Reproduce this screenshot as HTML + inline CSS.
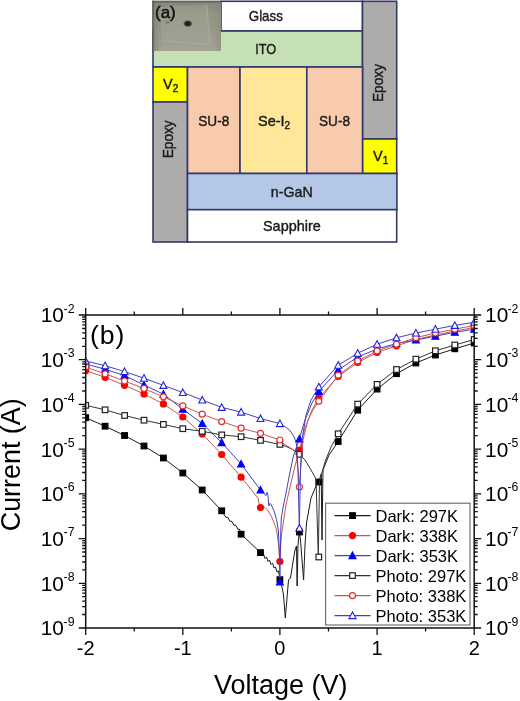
<!DOCTYPE html>
<html><head><meta charset="utf-8"><title>Figure</title>
<style>html,body{margin:0;padding:0;background:#fff;}body{width:520px;height:701px;overflow:hidden;position:relative;}svg{position:absolute;left:0;top:0;}</style>
</head><body>
<svg width="520" height="701" viewBox="0 0 520 701">
<rect x="221" y="1.3" width="141.50" height="29.70" fill="#ffffff" stroke="#30386c" stroke-width="1.6"/>
<rect x="153" y="31" width="209.50" height="36.00" fill="#c5e0b4" stroke="#30386c" stroke-width="1.6"/>
<rect x="362.5" y="1.3" width="34.20" height="137.70" fill="#aeabab" stroke="#30386c" stroke-width="1.6"/>
<rect x="362.5" y="139" width="34.20" height="34.50" fill="#ffff00" stroke="#30386c" stroke-width="1.6"/>
<rect x="153" y="67" width="34.50" height="35.00" fill="#ffff00" stroke="#30386c" stroke-width="1.6"/>
<rect x="153" y="102" width="34.50" height="140.00" fill="#aeabab" stroke="#30386c" stroke-width="1.6"/>
<rect x="187.5" y="67" width="52.50" height="106.50" fill="#f8cbad" stroke="#30386c" stroke-width="1.6"/>
<rect x="240" y="67" width="66.80" height="106.50" fill="#ffe699" stroke="#30386c" stroke-width="1.6"/>
<rect x="306.8" y="67" width="55.70" height="106.50" fill="#f8cbad" stroke="#30386c" stroke-width="1.6"/>
<rect x="187.5" y="173.5" width="209.40" height="36.20" fill="#b4c7e7" stroke="#30386c" stroke-width="1.6"/>
<rect x="187.5" y="209.7" width="209.20" height="32.30" fill="#ffffff" stroke="#30386c" stroke-width="1.6"/>
<defs><linearGradient id="ph" x1="0" y1="0" x2="0" y2="1">
<stop offset="0" stop-color="#85867a"/><stop offset="0.25" stop-color="#939486"/><stop offset="0.75" stop-color="#9c9d8e"/><stop offset="1" stop-color="#a3a396"/></linearGradient>
<linearGradient id="phl" x1="0" y1="0" x2="1" y2="0">
<stop offset="0" stop-color="#6f7064" stop-opacity="0.55"/><stop offset="0.15" stop-color="#8a8b7d" stop-opacity="0"/><stop offset="0.85" stop-color="#8a8b7d" stop-opacity="0"/><stop offset="1" stop-color="#7d7e70" stop-opacity="0.35"/></linearGradient>
<radialGradient id="dot"><stop offset="0" stop-color="#141412"/><stop offset="0.55" stop-color="#2a2a26"/><stop offset="1" stop-color="#6a6b60" stop-opacity="0"/></radialGradient>
<radialGradient id="dot2"><stop offset="0" stop-color="#5a5b50"/><stop offset="1" stop-color="#8a8b7d" stop-opacity="0"/></radialGradient></defs>
<rect x="152.5" y="1" width="68.5" height="50" fill="url(#ph)"/>
<polygon points="159,7 207,5 210,44 161,41" fill="#a3a494" opacity="0.45"/>
<polyline points="161,41 210,44.5 207,5" fill="none" stroke="#b3b4a5" stroke-width="1.2" opacity="0.55"/>
<polyline points="159,7 161,41" fill="none" stroke="#8d8e80" stroke-width="1" opacity="0.4"/>
<rect x="152.5" y="1" width="68.5" height="50" fill="url(#phl)"/>
<rect x="152.5" y="0.5" width="68.5" height="2" fill="#55574f" opacity="0.7"/>
<rect x="152.2" y="0.5" width="1.4" height="51" fill="#4a4c48" opacity="0.8"/>
<ellipse cx="187.8" cy="23.6" rx="5.2" ry="3.9" fill="url(#dot)"/>
<ellipse cx="167.5" cy="22.5" rx="4" ry="3" fill="url(#dot2)" opacity="0.6"/>
<text x="155" y="17.6" font-family="Liberation Sans, Arial, sans-serif" font-size="17" fill="#111" stroke="#111" stroke-width="0.45">(a)</text>
<text x="248.8" y="21.1" font-family="Liberation Sans, Arial, sans-serif" font-size="15" fill="#1a1a1a" stroke="#1a1a1a" stroke-width="0.4" text-anchor="start" textLength="34" lengthAdjust="spacingAndGlyphs">Glass</text>
<text x="255.2" y="53.9" font-family="Liberation Sans, Arial, sans-serif" font-size="15" fill="#1a1a1a" stroke="#1a1a1a" stroke-width="0.4" text-anchor="start" textLength="21" lengthAdjust="spacingAndGlyphs">ITO</text>
<text x="198.3" y="126" font-family="Liberation Sans, Arial, sans-serif" font-size="15" fill="#1a1a1a" stroke="#1a1a1a" stroke-width="0.4" text-anchor="start" textLength="31" lengthAdjust="spacingAndGlyphs">SU-8</text>
<text x="319" y="125.5" font-family="Liberation Sans, Arial, sans-serif" font-size="15" fill="#1a1a1a" stroke="#1a1a1a" stroke-width="0.4" text-anchor="start" textLength="31" lengthAdjust="spacingAndGlyphs">SU-8</text>
<text x="258" y="126" font-family="Liberation Sans, Arial, sans-serif" font-size="14.5" fill="#1a1a1a" stroke="#1a1a1a" stroke-width="0.4">Se-I<tspan font-size="10" dy="3">2</tspan></text>
<text x="163" y="89.2" font-family="Liberation Sans, Arial, sans-serif" font-size="14.5" fill="#1a1a1a" stroke="#1a1a1a" stroke-width="0.4">V<tspan font-size="10" dy="3">2</tspan></text>
<text x="373" y="160.5" font-family="Liberation Sans, Arial, sans-serif" font-size="14.5" fill="#1a1a1a" stroke="#1a1a1a" stroke-width="0.4">V<tspan font-size="10" dy="3">1</tspan></text>
<text transform="translate(383.3,83) rotate(-90)" font-family="Liberation Sans, Arial, sans-serif" font-size="14.8" fill="#1a1a1a" stroke="#1a1a1a" stroke-width="0.4" text-anchor="middle" textLength="38" lengthAdjust="spacingAndGlyphs">Epoxy</text>
<text transform="translate(173.4,139.3) rotate(-90)" font-family="Liberation Sans, Arial, sans-serif" font-size="14.8" fill="#1a1a1a" stroke="#1a1a1a" stroke-width="0.4" text-anchor="middle" textLength="38" lengthAdjust="spacingAndGlyphs">Epoxy</text>
<text x="270.8" y="197.3" font-family="Liberation Sans, Arial, sans-serif" font-size="15" fill="#1a1a1a" stroke="#1a1a1a" stroke-width="0.4" text-anchor="start" textLength="42" lengthAdjust="spacingAndGlyphs">n-GaN</text>
<text x="263" y="230.7" font-family="Liberation Sans, Arial, sans-serif" font-size="15" fill="#1a1a1a" stroke="#1a1a1a" stroke-width="0.4" text-anchor="start" textLength="57.7" lengthAdjust="spacingAndGlyphs">Sapphire</text>
<clipPath id="pc"><rect x="85.7" y="315.0" width="388.5" height="313.0"/></clipPath>
<g clip-path="url(#pc)">
<polyline points="85.7,417.7 105.1,426.2 124.5,435.5 144.0,446.0 163.4,458.0 182.8,473.0 202.2,490.0 221.7,510.8 226.0,517.5 227.5,517.0 230.0,521.5 231.5,521.0 234.0,525.5 235.5,525.0 238.0,529.5 239.5,529.0 241.1,534.2 260.5,552.6 262.0,555.0 263.5,554.0 265.0,558.5 266.5,557.0 268.0,561.5 269.5,560.0 271.0,564.5 272.5,563.0 274.0,568.0 275.5,567.0 277.0,572.0 278.5,571.0 279.9,579.7 282.0,587.0 283.5,595.0 285.3,618.0 287.0,598.0 288.5,580.0 290.5,578.0 292.5,565.0 295.0,550.0 296.5,546.0 297.1,586.0 298.0,545.0 299.3,532.0 300.5,540.0 302.0,560.0 303.6,580.0 305.0,545.0 306.5,523.0 311.0,498.0 316.0,486.0 318.8,482.0 321.2,474.0 322.0,540.0 323.0,470.0 329.0,455.0 338.2,441.5 357.7,410.2 377.1,389.1 396.5,373.7 415.9,363.0 435.4,355.0 454.8,348.8 474.2,343.0" fill="none" stroke="#1a1a1a" stroke-width="1.0" stroke-linejoin="round"/>
<rect x="82.9" y="414.9" width="5.6" height="5.6" fill="#000000" stroke="#000000" stroke-width="1.2"/>
<rect x="102.3" y="423.4" width="5.6" height="5.6" fill="#000000" stroke="#000000" stroke-width="1.2"/>
<rect x="121.8" y="432.7" width="5.6" height="5.6" fill="#000000" stroke="#000000" stroke-width="1.2"/>
<rect x="141.2" y="443.2" width="5.6" height="5.6" fill="#000000" stroke="#000000" stroke-width="1.2"/>
<rect x="160.6" y="455.2" width="5.6" height="5.6" fill="#000000" stroke="#000000" stroke-width="1.2"/>
<rect x="180.0" y="470.2" width="5.6" height="5.6" fill="#000000" stroke="#000000" stroke-width="1.2"/>
<rect x="199.4" y="487.2" width="5.6" height="5.6" fill="#000000" stroke="#000000" stroke-width="1.2"/>
<rect x="218.9" y="508.0" width="5.6" height="5.6" fill="#000000" stroke="#000000" stroke-width="1.2"/>
<rect x="238.3" y="531.4" width="5.6" height="5.6" fill="#000000" stroke="#000000" stroke-width="1.2"/>
<rect x="257.7" y="549.8" width="5.6" height="5.6" fill="#000000" stroke="#000000" stroke-width="1.2"/>
<rect x="277.1" y="576.9" width="5.6" height="5.6" fill="#000000" stroke="#000000" stroke-width="1.2"/>
<rect x="296.6" y="529.2" width="5.6" height="5.6" fill="#000000" stroke="#000000" stroke-width="1.2"/>
<rect x="316.0" y="479.2" width="5.6" height="5.6" fill="#000000" stroke="#000000" stroke-width="1.2"/>
<rect x="335.4" y="438.7" width="5.6" height="5.6" fill="#000000" stroke="#000000" stroke-width="1.2"/>
<rect x="354.9" y="407.4" width="5.6" height="5.6" fill="#000000" stroke="#000000" stroke-width="1.2"/>
<rect x="374.3" y="386.3" width="5.6" height="5.6" fill="#000000" stroke="#000000" stroke-width="1.2"/>
<rect x="393.7" y="370.9" width="5.6" height="5.6" fill="#000000" stroke="#000000" stroke-width="1.2"/>
<rect x="413.1" y="360.2" width="5.6" height="5.6" fill="#000000" stroke="#000000" stroke-width="1.2"/>
<rect x="432.6" y="352.2" width="5.6" height="5.6" fill="#000000" stroke="#000000" stroke-width="1.2"/>
<rect x="452.0" y="346.0" width="5.6" height="5.6" fill="#000000" stroke="#000000" stroke-width="1.2"/>
<rect x="471.4" y="340.2" width="5.6" height="5.6" fill="#000000" stroke="#000000" stroke-width="1.2"/>
<polyline points="85.7,370.6 105.1,377.3 124.5,385.3 144.0,393.9 163.4,403.9 182.8,417.0 202.2,433.9 221.7,454.5 241.1,477.2 250.0,488.0 258.1,498.3 259.0,503.4 260.5,507.5 264.1,506.8 267.1,509.4 271.4,516.3 274.8,524.8 276.5,530.0 278.0,540.0 279.0,550.0 279.9,561.5 280.5,548.0 281.5,535.0 282.5,528.0 286.0,505.0 290.0,487.0 295.0,466.0 299.3,450.0 305.0,428.0 312.0,410.0 318.8,398.0 338.2,376.5 357.7,362.5 377.1,352.5 396.5,345.8 415.9,339.5 435.4,335.0 454.8,331.0 474.2,327.5" fill="none" stroke="#c85656" stroke-width="1.0" stroke-linejoin="round"/>
<circle cx="85.7" cy="370.6" r="3.0" fill="#ff0000" stroke="#ff0000" stroke-width="1.2"/>
<circle cx="105.1" cy="377.3" r="3.0" fill="#ff0000" stroke="#ff0000" stroke-width="1.2"/>
<circle cx="124.5" cy="385.3" r="3.0" fill="#ff0000" stroke="#ff0000" stroke-width="1.2"/>
<circle cx="144.0" cy="393.9" r="3.0" fill="#ff0000" stroke="#ff0000" stroke-width="1.2"/>
<circle cx="163.4" cy="403.9" r="3.0" fill="#ff0000" stroke="#ff0000" stroke-width="1.2"/>
<circle cx="182.8" cy="417.0" r="3.0" fill="#ff0000" stroke="#ff0000" stroke-width="1.2"/>
<circle cx="202.2" cy="433.9" r="3.0" fill="#ff0000" stroke="#ff0000" stroke-width="1.2"/>
<circle cx="221.7" cy="454.5" r="3.0" fill="#ff0000" stroke="#ff0000" stroke-width="1.2"/>
<circle cx="241.1" cy="477.2" r="3.0" fill="#ff0000" stroke="#ff0000" stroke-width="1.2"/>
<circle cx="260.5" cy="507.5" r="3.0" fill="#ff0000" stroke="#ff0000" stroke-width="1.2"/>
<circle cx="279.9" cy="561.5" r="3.0" fill="#ff0000" stroke="#ff0000" stroke-width="1.2"/>
<circle cx="299.4" cy="450.0" r="3.0" fill="#ff0000" stroke="#ff0000" stroke-width="1.2"/>
<circle cx="318.8" cy="398.0" r="3.0" fill="#ff0000" stroke="#ff0000" stroke-width="1.2"/>
<circle cx="338.2" cy="376.5" r="3.0" fill="#ff0000" stroke="#ff0000" stroke-width="1.2"/>
<circle cx="357.7" cy="362.5" r="3.0" fill="#ff0000" stroke="#ff0000" stroke-width="1.2"/>
<circle cx="377.1" cy="352.5" r="3.0" fill="#ff0000" stroke="#ff0000" stroke-width="1.2"/>
<circle cx="396.5" cy="345.8" r="3.0" fill="#ff0000" stroke="#ff0000" stroke-width="1.2"/>
<circle cx="415.9" cy="339.5" r="3.0" fill="#ff0000" stroke="#ff0000" stroke-width="1.2"/>
<circle cx="435.4" cy="335.0" r="3.0" fill="#ff0000" stroke="#ff0000" stroke-width="1.2"/>
<circle cx="454.8" cy="331.0" r="3.0" fill="#ff0000" stroke="#ff0000" stroke-width="1.2"/>
<circle cx="474.2" cy="327.5" r="3.0" fill="#ff0000" stroke="#ff0000" stroke-width="1.2"/>
<polyline points="85.7,364.0 105.1,369.2 124.5,375.6 144.0,385.0 163.4,394.2 182.8,409.2 202.2,423.5 221.7,442.6 241.1,464.0 260.5,490.0 264.6,494.0 265.8,495.7 267.1,492.3 268.0,495.7 268.8,506.0 270.1,503.4 271.0,504.3 274.0,511.0 276.6,519.7 278.3,530.0 279.3,550.0 279.9,582.0 280.2,560.0 280.8,530.0 281.3,518.0 283.0,508.0 286.0,493.0 289.4,475.0 293.4,456.0 299.3,439.0 305.0,420.0 312.0,403.0 318.8,391.5 338.2,370.0 357.7,357.0 377.1,349.0 396.5,343.5 415.9,340.0 435.4,336.2 454.8,332.3 474.2,329.2" fill="none" stroke="#4242b8" stroke-width="1.0" stroke-linejoin="round"/>
<polygon points="85.7,360.4 89.2,367.0 82.2,367.0" fill="#0000ff" stroke="#0000ff" stroke-width="1.1" stroke-linejoin="miter"/>
<polygon points="105.1,365.6 108.6,372.2 101.6,372.2" fill="#0000ff" stroke="#0000ff" stroke-width="1.1" stroke-linejoin="miter"/>
<polygon points="124.5,372.0 128.1,378.6 121.0,378.6" fill="#0000ff" stroke="#0000ff" stroke-width="1.1" stroke-linejoin="miter"/>
<polygon points="144.0,381.4 147.5,388.0 140.5,388.0" fill="#0000ff" stroke="#0000ff" stroke-width="1.1" stroke-linejoin="miter"/>
<polygon points="163.4,390.6 166.9,397.2 159.9,397.2" fill="#0000ff" stroke="#0000ff" stroke-width="1.1" stroke-linejoin="miter"/>
<polygon points="182.8,405.6 186.3,412.2 179.3,412.2" fill="#0000ff" stroke="#0000ff" stroke-width="1.1" stroke-linejoin="miter"/>
<polygon points="202.2,419.9 205.8,426.5 198.8,426.5" fill="#0000ff" stroke="#0000ff" stroke-width="1.1" stroke-linejoin="miter"/>
<polygon points="221.7,439.0 225.2,445.6 218.2,445.6" fill="#0000ff" stroke="#0000ff" stroke-width="1.1" stroke-linejoin="miter"/>
<polygon points="241.1,460.4 244.6,467.0 237.6,467.0" fill="#0000ff" stroke="#0000ff" stroke-width="1.1" stroke-linejoin="miter"/>
<polygon points="260.5,486.4 264.0,493.0 257.0,493.0" fill="#0000ff" stroke="#0000ff" stroke-width="1.1" stroke-linejoin="miter"/>
<polygon points="279.9,578.4 283.4,585.0 276.4,585.0" fill="#0000ff" stroke="#0000ff" stroke-width="1.1" stroke-linejoin="miter"/>
<polygon points="299.4,435.4 302.9,442.0 295.9,442.0" fill="#0000ff" stroke="#0000ff" stroke-width="1.1" stroke-linejoin="miter"/>
<polygon points="318.8,387.9 322.3,394.5 315.3,394.5" fill="#0000ff" stroke="#0000ff" stroke-width="1.1" stroke-linejoin="miter"/>
<polygon points="338.2,366.4 341.7,373.0 334.7,373.0" fill="#0000ff" stroke="#0000ff" stroke-width="1.1" stroke-linejoin="miter"/>
<polygon points="357.7,353.4 361.2,360.0 354.2,360.0" fill="#0000ff" stroke="#0000ff" stroke-width="1.1" stroke-linejoin="miter"/>
<polygon points="377.1,345.4 380.6,352.0 373.6,352.0" fill="#0000ff" stroke="#0000ff" stroke-width="1.1" stroke-linejoin="miter"/>
<polygon points="396.5,339.9 400.0,346.5 393.0,346.5" fill="#0000ff" stroke="#0000ff" stroke-width="1.1" stroke-linejoin="miter"/>
<polygon points="415.9,336.4 419.4,343.0 412.4,343.0" fill="#0000ff" stroke="#0000ff" stroke-width="1.1" stroke-linejoin="miter"/>
<polygon points="435.4,332.6 438.9,339.2 431.9,339.2" fill="#0000ff" stroke="#0000ff" stroke-width="1.1" stroke-linejoin="miter"/>
<polygon points="454.8,328.7 458.3,335.3 451.3,335.3" fill="#0000ff" stroke="#0000ff" stroke-width="1.1" stroke-linejoin="miter"/>
<polygon points="474.2,325.6 477.7,332.2 470.7,332.2" fill="#0000ff" stroke="#0000ff" stroke-width="1.1" stroke-linejoin="miter"/>
<polyline points="85.7,405.3 105.1,409.8 124.5,415.5 144.0,420.2 163.4,424.4 182.8,428.7 202.2,431.3 221.7,434.9 241.1,436.7 260.5,440.4 279.9,444.4 285.0,446.0 293.0,449.6 299.3,454.3 305.0,460.0 311.0,470.0 316.0,479.0 318.3,557.0 319.5,482.0 321.5,474.0 325.0,462.0 331.0,447.0 338.2,433.8 357.7,404.1 377.1,384.4 396.5,369.5 415.9,359.2 435.4,350.8 454.8,345.0 474.2,339.5" fill="none" stroke="#333333" stroke-width="1.0" stroke-linejoin="round"/>
<rect x="82.9" y="402.5" width="5.6" height="5.6" fill="#fff" stroke="#222" stroke-width="1.2"/>
<rect x="102.3" y="407.0" width="5.6" height="5.6" fill="#fff" stroke="#222" stroke-width="1.2"/>
<rect x="121.8" y="412.7" width="5.6" height="5.6" fill="#fff" stroke="#222" stroke-width="1.2"/>
<rect x="141.2" y="417.4" width="5.6" height="5.6" fill="#fff" stroke="#222" stroke-width="1.2"/>
<rect x="160.6" y="421.6" width="5.6" height="5.6" fill="#fff" stroke="#222" stroke-width="1.2"/>
<rect x="180.0" y="425.9" width="5.6" height="5.6" fill="#fff" stroke="#222" stroke-width="1.2"/>
<rect x="199.4" y="428.5" width="5.6" height="5.6" fill="#fff" stroke="#222" stroke-width="1.2"/>
<rect x="218.9" y="432.1" width="5.6" height="5.6" fill="#fff" stroke="#222" stroke-width="1.2"/>
<rect x="238.3" y="433.9" width="5.6" height="5.6" fill="#fff" stroke="#222" stroke-width="1.2"/>
<rect x="257.7" y="437.6" width="5.6" height="5.6" fill="#fff" stroke="#222" stroke-width="1.2"/>
<rect x="277.1" y="441.6" width="5.6" height="5.6" fill="#fff" stroke="#222" stroke-width="1.2"/>
<rect x="296.6" y="451.5" width="5.6" height="5.6" fill="#fff" stroke="#222" stroke-width="1.2"/>
<rect x="316.0" y="554.2" width="5.6" height="5.6" fill="#fff" stroke="#222" stroke-width="1.2"/>
<rect x="335.4" y="431.0" width="5.6" height="5.6" fill="#fff" stroke="#222" stroke-width="1.2"/>
<rect x="354.9" y="401.3" width="5.6" height="5.6" fill="#fff" stroke="#222" stroke-width="1.2"/>
<rect x="374.3" y="381.6" width="5.6" height="5.6" fill="#fff" stroke="#222" stroke-width="1.2"/>
<rect x="393.7" y="366.7" width="5.6" height="5.6" fill="#fff" stroke="#222" stroke-width="1.2"/>
<rect x="413.1" y="356.4" width="5.6" height="5.6" fill="#fff" stroke="#222" stroke-width="1.2"/>
<rect x="432.6" y="348.0" width="5.6" height="5.6" fill="#fff" stroke="#222" stroke-width="1.2"/>
<rect x="452.0" y="342.2" width="5.6" height="5.6" fill="#fff" stroke="#222" stroke-width="1.2"/>
<rect x="471.4" y="336.7" width="5.6" height="5.6" fill="#fff" stroke="#222" stroke-width="1.2"/>
<polyline points="85.7,367.0 105.1,373.9 124.5,381.0 144.0,388.5 163.4,396.8 182.8,405.9 202.2,414.2 221.7,421.6 241.1,428.2 260.5,433.3 279.9,440.0 283.8,443.8 289.0,447.0 294.2,450.8 296.5,456.0 298.0,470.0 299.3,487.0 300.5,470.0 303.0,440.0 308.0,420.0 313.0,410.0 318.8,401.2 338.2,375.2 357.7,360.9 377.1,350.9 396.5,344.2 415.9,337.7 435.4,333.0 454.8,329.2 474.2,325.5" fill="none" stroke="#c85656" stroke-width="1.0" stroke-linejoin="round"/>
<circle cx="85.7" cy="367.0" r="3.0" fill="#fff" stroke="#e03030" stroke-width="1.2"/>
<circle cx="105.1" cy="373.9" r="3.0" fill="#fff" stroke="#e03030" stroke-width="1.2"/>
<circle cx="124.5" cy="381.0" r="3.0" fill="#fff" stroke="#e03030" stroke-width="1.2"/>
<circle cx="144.0" cy="388.5" r="3.0" fill="#fff" stroke="#e03030" stroke-width="1.2"/>
<circle cx="163.4" cy="396.8" r="3.0" fill="#fff" stroke="#e03030" stroke-width="1.2"/>
<circle cx="182.8" cy="405.9" r="3.0" fill="#fff" stroke="#e03030" stroke-width="1.2"/>
<circle cx="202.2" cy="414.2" r="3.0" fill="#fff" stroke="#e03030" stroke-width="1.2"/>
<circle cx="221.7" cy="421.6" r="3.0" fill="#fff" stroke="#e03030" stroke-width="1.2"/>
<circle cx="241.1" cy="428.2" r="3.0" fill="#fff" stroke="#e03030" stroke-width="1.2"/>
<circle cx="260.5" cy="433.3" r="3.0" fill="#fff" stroke="#e03030" stroke-width="1.2"/>
<circle cx="279.9" cy="440.0" r="3.0" fill="#fff" stroke="#e03030" stroke-width="1.2"/>
<circle cx="299.4" cy="487.0" r="3.0" fill="#fff" stroke="#e03030" stroke-width="1.2"/>
<circle cx="318.8" cy="401.2" r="3.0" fill="#fff" stroke="#e03030" stroke-width="1.2"/>
<circle cx="338.2" cy="375.2" r="3.0" fill="#fff" stroke="#e03030" stroke-width="1.2"/>
<circle cx="357.7" cy="360.9" r="3.0" fill="#fff" stroke="#e03030" stroke-width="1.2"/>
<circle cx="377.1" cy="350.9" r="3.0" fill="#fff" stroke="#e03030" stroke-width="1.2"/>
<circle cx="396.5" cy="344.2" r="3.0" fill="#fff" stroke="#e03030" stroke-width="1.2"/>
<circle cx="415.9" cy="337.7" r="3.0" fill="#fff" stroke="#e03030" stroke-width="1.2"/>
<circle cx="435.4" cy="333.0" r="3.0" fill="#fff" stroke="#e03030" stroke-width="1.2"/>
<circle cx="454.8" cy="329.2" r="3.0" fill="#fff" stroke="#e03030" stroke-width="1.2"/>
<circle cx="474.2" cy="325.5" r="3.0" fill="#fff" stroke="#e03030" stroke-width="1.2"/>
<polyline points="85.7,361.0 105.1,365.7 124.5,371.6 144.0,378.2 163.4,385.4 182.8,392.5 202.2,400.0 221.7,407.4 241.1,412.1 260.5,418.5 279.9,423.6 285.6,427.0 289.6,430.0 294.2,437.0 296.5,443.8 298.0,470.0 299.3,528.0 300.5,470.0 302.0,440.0 306.0,415.0 311.0,400.0 318.8,386.9 338.2,365.2 357.7,353.2 377.1,344.2 396.5,337.8 415.9,333.0 435.4,329.2 454.8,325.4 474.2,322.3" fill="none" stroke="#4242b8" stroke-width="1.0" stroke-linejoin="round"/>
<polygon points="85.7,357.4 89.2,364.0 82.2,364.0" fill="#fff" stroke="#2020e0" stroke-width="1.1" stroke-linejoin="miter"/>
<polygon points="105.1,362.1 108.6,368.7 101.6,368.7" fill="#fff" stroke="#2020e0" stroke-width="1.1" stroke-linejoin="miter"/>
<polygon points="124.5,368.0 128.1,374.6 121.0,374.6" fill="#fff" stroke="#2020e0" stroke-width="1.1" stroke-linejoin="miter"/>
<polygon points="144.0,374.6 147.5,381.2 140.5,381.2" fill="#fff" stroke="#2020e0" stroke-width="1.1" stroke-linejoin="miter"/>
<polygon points="163.4,381.8 166.9,388.4 159.9,388.4" fill="#fff" stroke="#2020e0" stroke-width="1.1" stroke-linejoin="miter"/>
<polygon points="182.8,388.9 186.3,395.5 179.3,395.5" fill="#fff" stroke="#2020e0" stroke-width="1.1" stroke-linejoin="miter"/>
<polygon points="202.2,396.4 205.8,403.0 198.8,403.0" fill="#fff" stroke="#2020e0" stroke-width="1.1" stroke-linejoin="miter"/>
<polygon points="221.7,403.8 225.2,410.4 218.2,410.4" fill="#fff" stroke="#2020e0" stroke-width="1.1" stroke-linejoin="miter"/>
<polygon points="241.1,408.5 244.6,415.1 237.6,415.1" fill="#fff" stroke="#2020e0" stroke-width="1.1" stroke-linejoin="miter"/>
<polygon points="260.5,414.9 264.0,421.5 257.0,421.5" fill="#fff" stroke="#2020e0" stroke-width="1.1" stroke-linejoin="miter"/>
<polygon points="279.9,420.0 283.4,426.6 276.4,426.6" fill="#fff" stroke="#2020e0" stroke-width="1.1" stroke-linejoin="miter"/>
<polygon points="299.4,524.4 302.9,531.0 295.9,531.0" fill="#fff" stroke="#2020e0" stroke-width="1.1" stroke-linejoin="miter"/>
<polygon points="318.8,383.3 322.3,389.9 315.3,389.9" fill="#fff" stroke="#2020e0" stroke-width="1.1" stroke-linejoin="miter"/>
<polygon points="338.2,361.6 341.7,368.2 334.7,368.2" fill="#fff" stroke="#2020e0" stroke-width="1.1" stroke-linejoin="miter"/>
<polygon points="357.7,349.6 361.2,356.2 354.2,356.2" fill="#fff" stroke="#2020e0" stroke-width="1.1" stroke-linejoin="miter"/>
<polygon points="377.1,340.6 380.6,347.2 373.6,347.2" fill="#fff" stroke="#2020e0" stroke-width="1.1" stroke-linejoin="miter"/>
<polygon points="396.5,334.2 400.0,340.8 393.0,340.8" fill="#fff" stroke="#2020e0" stroke-width="1.1" stroke-linejoin="miter"/>
<polygon points="415.9,329.4 419.4,336.0 412.4,336.0" fill="#fff" stroke="#2020e0" stroke-width="1.1" stroke-linejoin="miter"/>
<polygon points="435.4,325.6 438.9,332.2 431.9,332.2" fill="#fff" stroke="#2020e0" stroke-width="1.1" stroke-linejoin="miter"/>
<polygon points="454.8,321.8 458.3,328.4 451.3,328.4" fill="#fff" stroke="#2020e0" stroke-width="1.1" stroke-linejoin="miter"/>
<polygon points="474.2,318.7 477.7,325.3 470.7,325.3" fill="#fff" stroke="#2020e0" stroke-width="1.1" stroke-linejoin="miter"/>
</g>
<rect x="85.7" y="315.0" width="388.5" height="313.0" fill="none" stroke="#111" stroke-width="1.5"/>
<path d="M85.7,628.0v7M85.7,315.0v-7M182.8,628.0v7M182.8,315.0v-7M279.9,628.0v7M279.9,315.0v-7M377.1,628.0v7M377.1,315.0v-7M474.2,628.0v7M474.2,315.0v-7M134.3,628.0v3.5M134.3,315.0v-3.5M231.4,628.0v3.5M231.4,315.0v-3.5M328.5,628.0v3.5M328.5,315.0v-3.5M425.6,628.0v3.5M425.6,315.0v-3.5M85.7,614.5h-3.5M474.2,614.5h3.5M85.7,606.7h-3.5M474.2,606.7h3.5M85.7,601.1h-3.5M474.2,601.1h3.5M85.7,596.7h-3.5M474.2,596.7h3.5M85.7,593.2h-3.5M474.2,593.2h3.5M85.7,590.2h-3.5M474.2,590.2h3.5M85.7,587.6h-3.5M474.2,587.6h3.5M85.7,585.3h-3.5M474.2,585.3h3.5M85.7,569.8h-3.5M474.2,569.8h3.5M85.7,562.0h-3.5M474.2,562.0h3.5M85.7,556.4h-3.5M474.2,556.4h3.5M85.7,552.0h-3.5M474.2,552.0h3.5M85.7,548.5h-3.5M474.2,548.5h3.5M85.7,545.5h-3.5M474.2,545.5h3.5M85.7,542.9h-3.5M474.2,542.9h3.5M85.7,540.6h-3.5M474.2,540.6h3.5M85.7,525.1h-3.5M474.2,525.1h3.5M85.7,517.2h-3.5M474.2,517.2h3.5M85.7,511.7h-3.5M474.2,511.7h3.5M85.7,507.3h-3.5M474.2,507.3h3.5M85.7,503.8h-3.5M474.2,503.8h3.5M85.7,500.8h-3.5M474.2,500.8h3.5M85.7,498.2h-3.5M474.2,498.2h3.5M85.7,495.9h-3.5M474.2,495.9h3.5M85.7,480.4h-3.5M474.2,480.4h3.5M85.7,472.5h-3.5M474.2,472.5h3.5M85.7,466.9h-3.5M474.2,466.9h3.5M85.7,462.6h-3.5M474.2,462.6h3.5M85.7,459.1h-3.5M474.2,459.1h3.5M85.7,456.1h-3.5M474.2,456.1h3.5M85.7,453.5h-3.5M474.2,453.5h3.5M85.7,451.2h-3.5M474.2,451.2h3.5M85.7,435.7h-3.5M474.2,435.7h3.5M85.7,427.8h-3.5M474.2,427.8h3.5M85.7,422.2h-3.5M474.2,422.2h3.5M85.7,417.9h-3.5M474.2,417.9h3.5M85.7,414.3h-3.5M474.2,414.3h3.5M85.7,411.4h-3.5M474.2,411.4h3.5M85.7,408.8h-3.5M474.2,408.8h3.5M85.7,406.5h-3.5M474.2,406.5h3.5M85.7,391.0h-3.5M474.2,391.0h3.5M85.7,383.1h-3.5M474.2,383.1h3.5M85.7,377.5h-3.5M474.2,377.5h3.5M85.7,373.2h-3.5M474.2,373.2h3.5M85.7,369.6h-3.5M474.2,369.6h3.5M85.7,366.6h-3.5M474.2,366.6h3.5M85.7,364.0h-3.5M474.2,364.0h3.5M85.7,361.8h-3.5M474.2,361.8h3.5M85.7,346.3h-3.5M474.2,346.3h3.5M85.7,338.4h-3.5M474.2,338.4h3.5M85.7,332.8h-3.5M474.2,332.8h3.5M85.7,328.5h-3.5M474.2,328.5h3.5M85.7,324.9h-3.5M474.2,324.9h3.5M85.7,321.9h-3.5M474.2,321.9h3.5M85.7,319.3h-3.5M474.2,319.3h3.5M85.7,317.0h-3.5M474.2,317.0h3.5M85.7,628.0h-7M474.2,628.0h7M85.7,583.3h-7M474.2,583.3h7M85.7,538.6h-7M474.2,538.6h7M85.7,493.9h-7M474.2,493.9h7M85.7,449.1h-7M474.2,449.1h7M85.7,404.4h-7M474.2,404.4h7M85.7,359.7h-7M474.2,359.7h7M85.7,315.0h-7M474.2,315.0h7M85.7,315.0h-7M474.2,315.0h7" stroke="#111" stroke-width="1.3" fill="none"/>
<text x="85.7" y="654.6" font-family="Liberation Sans, Arial, sans-serif" font-size="20" text-anchor="middle" fill="#000">-2</text>
<text x="182.8" y="654.6" font-family="Liberation Sans, Arial, sans-serif" font-size="20" text-anchor="middle" fill="#000">-1</text>
<text x="279.9" y="654.6" font-family="Liberation Sans, Arial, sans-serif" font-size="20" text-anchor="middle" fill="#000">0</text>
<text x="377.1" y="654.6" font-family="Liberation Sans, Arial, sans-serif" font-size="20" text-anchor="middle" fill="#000">1</text>
<text x="474.2" y="654.6" font-family="Liberation Sans, Arial, sans-serif" font-size="20" text-anchor="middle" fill="#000">2</text>
<text x="63.8" y="635.4" font-family="Liberation Sans, Arial, sans-serif" font-size="20.8" text-anchor="end" fill="#000">10</text>
<text x="63.6" y="625.5" font-family="Liberation Sans, Arial, sans-serif" font-size="12.3" fill="#000">-9</text>
<text x="485.1" y="635.4" font-family="Liberation Sans, Arial, sans-serif" font-size="20.8" fill="#000">10</text>
<text x="507.5" y="625.5" font-family="Liberation Sans, Arial, sans-serif" font-size="12.3" fill="#000">-9</text>
<text x="63.8" y="590.7" font-family="Liberation Sans, Arial, sans-serif" font-size="20.8" text-anchor="end" fill="#000">10</text>
<text x="63.6" y="580.8" font-family="Liberation Sans, Arial, sans-serif" font-size="12.3" fill="#000">-8</text>
<text x="485.1" y="590.7" font-family="Liberation Sans, Arial, sans-serif" font-size="20.8" fill="#000">10</text>
<text x="507.5" y="580.8" font-family="Liberation Sans, Arial, sans-serif" font-size="12.3" fill="#000">-8</text>
<text x="63.8" y="546.0" font-family="Liberation Sans, Arial, sans-serif" font-size="20.8" text-anchor="end" fill="#000">10</text>
<text x="63.6" y="536.1" font-family="Liberation Sans, Arial, sans-serif" font-size="12.3" fill="#000">-7</text>
<text x="485.1" y="546.0" font-family="Liberation Sans, Arial, sans-serif" font-size="20.8" fill="#000">10</text>
<text x="507.5" y="536.1" font-family="Liberation Sans, Arial, sans-serif" font-size="12.3" fill="#000">-7</text>
<text x="63.8" y="501.3" font-family="Liberation Sans, Arial, sans-serif" font-size="20.8" text-anchor="end" fill="#000">10</text>
<text x="63.6" y="491.4" font-family="Liberation Sans, Arial, sans-serif" font-size="12.3" fill="#000">-6</text>
<text x="485.1" y="501.3" font-family="Liberation Sans, Arial, sans-serif" font-size="20.8" fill="#000">10</text>
<text x="507.5" y="491.4" font-family="Liberation Sans, Arial, sans-serif" font-size="12.3" fill="#000">-6</text>
<text x="63.8" y="456.5" font-family="Liberation Sans, Arial, sans-serif" font-size="20.8" text-anchor="end" fill="#000">10</text>
<text x="63.6" y="446.6" font-family="Liberation Sans, Arial, sans-serif" font-size="12.3" fill="#000">-5</text>
<text x="485.1" y="456.5" font-family="Liberation Sans, Arial, sans-serif" font-size="20.8" fill="#000">10</text>
<text x="507.5" y="446.6" font-family="Liberation Sans, Arial, sans-serif" font-size="12.3" fill="#000">-5</text>
<text x="63.8" y="411.8" font-family="Liberation Sans, Arial, sans-serif" font-size="20.8" text-anchor="end" fill="#000">10</text>
<text x="63.6" y="401.9" font-family="Liberation Sans, Arial, sans-serif" font-size="12.3" fill="#000">-4</text>
<text x="485.1" y="411.8" font-family="Liberation Sans, Arial, sans-serif" font-size="20.8" fill="#000">10</text>
<text x="507.5" y="401.9" font-family="Liberation Sans, Arial, sans-serif" font-size="12.3" fill="#000">-4</text>
<text x="63.8" y="367.1" font-family="Liberation Sans, Arial, sans-serif" font-size="20.8" text-anchor="end" fill="#000">10</text>
<text x="63.6" y="357.2" font-family="Liberation Sans, Arial, sans-serif" font-size="12.3" fill="#000">-3</text>
<text x="485.1" y="367.1" font-family="Liberation Sans, Arial, sans-serif" font-size="20.8" fill="#000">10</text>
<text x="507.5" y="357.2" font-family="Liberation Sans, Arial, sans-serif" font-size="12.3" fill="#000">-3</text>
<text x="63.8" y="322.4" font-family="Liberation Sans, Arial, sans-serif" font-size="20.8" text-anchor="end" fill="#000">10</text>
<text x="63.6" y="312.5" font-family="Liberation Sans, Arial, sans-serif" font-size="12.3" fill="#000">-2</text>
<text x="485.1" y="322.4" font-family="Liberation Sans, Arial, sans-serif" font-size="20.8" fill="#000">10</text>
<text x="507.5" y="312.5" font-family="Liberation Sans, Arial, sans-serif" font-size="12.3" fill="#000">-2</text>
<text x="280.7" y="693.8" font-family="Liberation Sans, Arial, sans-serif" font-size="27" text-anchor="middle" fill="#000">Voltage (V)</text>
<text transform="translate(20.3,464.8) rotate(-90)" x="0" y="0" font-family="Liberation Sans, Arial, sans-serif" font-size="26.9" text-anchor="middle" fill="#000">Current (A)</text>
<text x="90" y="344" font-family="Liberation Sans, Arial, sans-serif" font-size="26.6" letter-spacing="0.9" fill="#000">(b)</text>
<rect x="325.6" y="503.2" width="144.4" height="121.8" fill="#fff" stroke="#666" stroke-width="1.1"/>
<line x1="334.5" y1="515.6" x2="370.5" y2="515.6" stroke="#1a1a1a" stroke-width="1.1"/>
<rect x="349.7" y="512.8" width="5.6" height="5.6" fill="#000000" stroke="#000000" stroke-width="1.2"/>
<text x="375.5" y="521.6" font-family="Liberation Sans, Arial, sans-serif" font-size="16.5" fill="#000">Dark: 297K</text>
<line x1="334.5" y1="535.6" x2="370.5" y2="535.6" stroke="#c85656" stroke-width="1.1"/>
<circle cx="352.5" cy="535.6" r="3.0" fill="#ff0000" stroke="#ff0000" stroke-width="1.2"/>
<text x="375.5" y="541.6" font-family="Liberation Sans, Arial, sans-serif" font-size="16.5" fill="#000">Dark: 338K</text>
<line x1="334.5" y1="555.6" x2="370.5" y2="555.6" stroke="#4242b8" stroke-width="1.1"/>
<polygon points="352.5,552.0 356.0,558.6 349.0,558.6" fill="#0000ff" stroke="#0000ff" stroke-width="1.1" stroke-linejoin="miter"/>
<text x="375.5" y="561.6" font-family="Liberation Sans, Arial, sans-serif" font-size="16.5" fill="#000">Dark: 353K</text>
<line x1="334.5" y1="575.6" x2="370.5" y2="575.6" stroke="#333333" stroke-width="1.1"/>
<rect x="349.7" y="572.8" width="5.6" height="5.6" fill="#fff" stroke="#222" stroke-width="1.2"/>
<text x="375.5" y="581.6" font-family="Liberation Sans, Arial, sans-serif" font-size="16.5" fill="#000">Photo: 297K</text>
<line x1="334.5" y1="595.6" x2="370.5" y2="595.6" stroke="#c85656" stroke-width="1.1"/>
<circle cx="352.5" cy="595.6" r="3.0" fill="#fff" stroke="#e03030" stroke-width="1.2"/>
<text x="375.5" y="601.6" font-family="Liberation Sans, Arial, sans-serif" font-size="16.5" fill="#000">Photo: 338K</text>
<line x1="334.5" y1="615.6" x2="370.5" y2="615.6" stroke="#4242b8" stroke-width="1.1"/>
<polygon points="352.5,612.0 356.0,618.6 349.0,618.6" fill="#fff" stroke="#2020e0" stroke-width="1.1" stroke-linejoin="miter"/>
<text x="375.5" y="621.6" font-family="Liberation Sans, Arial, sans-serif" font-size="16.5" fill="#000">Photo: 353K</text>
</svg>
</body></html>
